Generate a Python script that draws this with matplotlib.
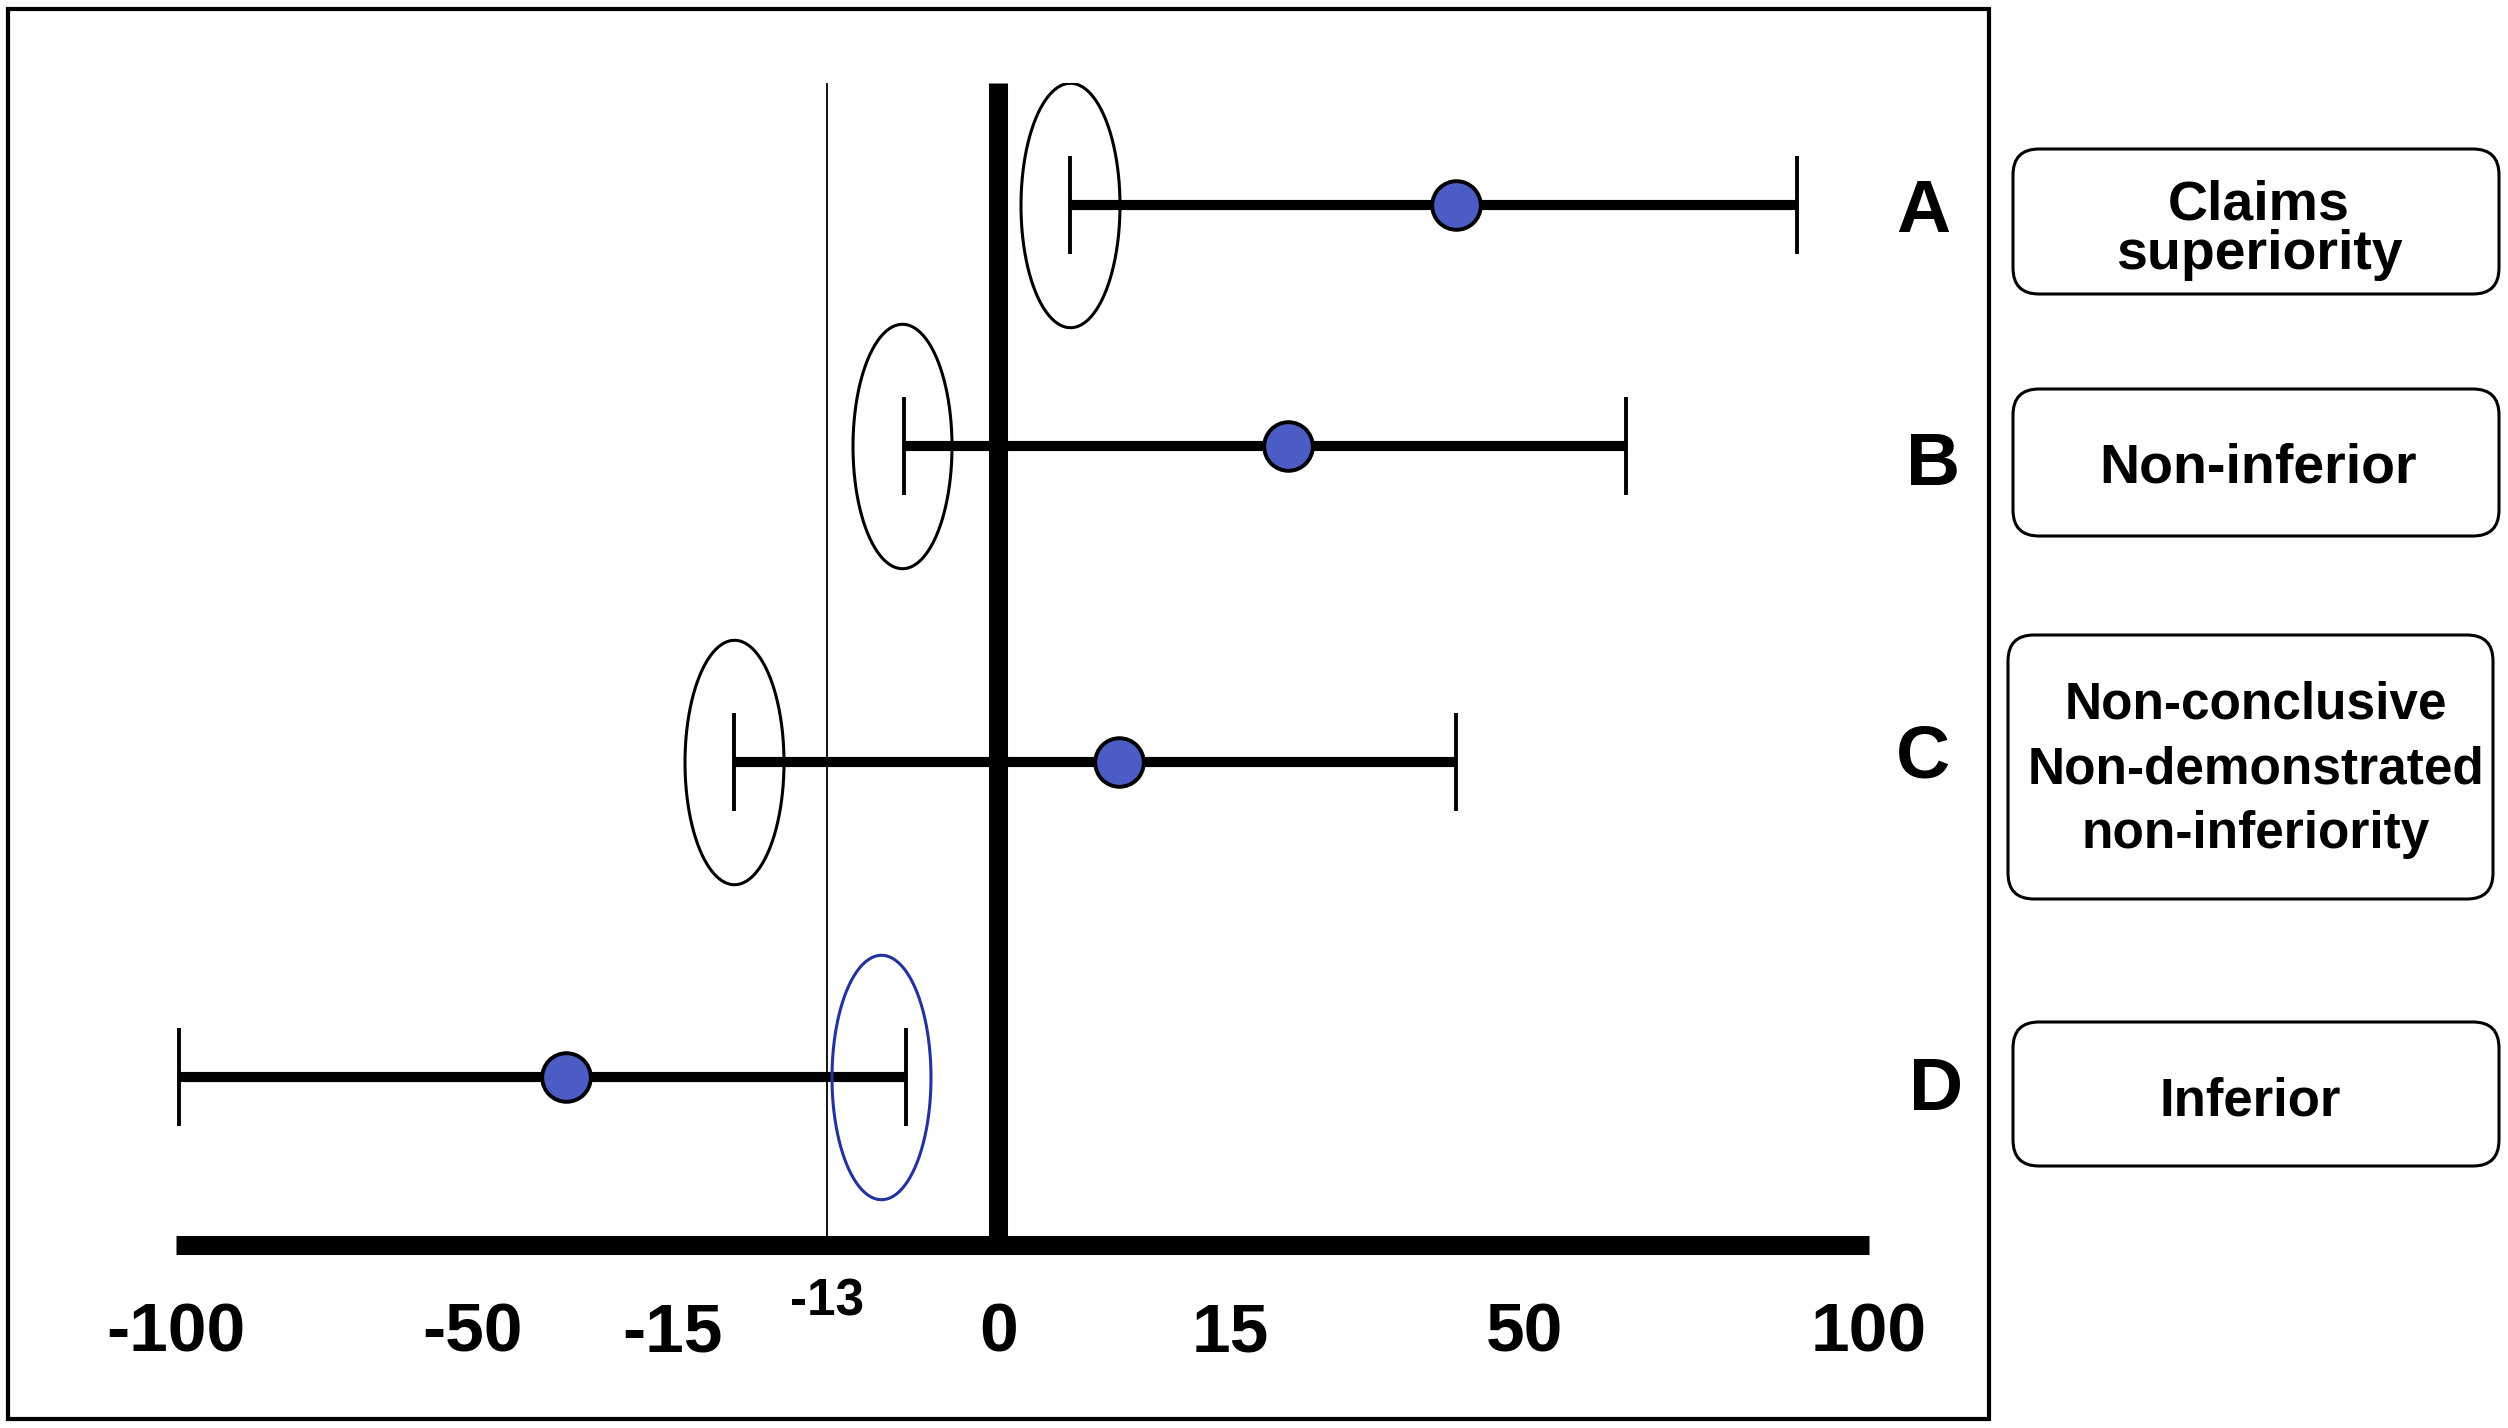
import numpy as np
import matplotlib.pyplot as plt
from matplotlib.path import Path
from matplotlib.patches import FancyBboxPatch, Rectangle
from matplotlib.transforms import ScaledTranslation

plt.rcParams['font.family'] = ['Liberation Sans', 'DejaVu Sans']

# the schematic x axis is not to scale: each tick value sits at its own place
tick_vals = [-100, -50, -15, -13, 0, 15, 50, 100]
tick_labels = ['-100', '-50', '-15', '-13', '0', '15', '50', '100']
tick_place = [110, 295, 420, 517, 624, 769, 953, 1168]

rows = ['A', 'B', 'C', 'D']
lower = [4.6, -7.2, -14.2, -99.5]
estimate = [41.8, 21.8, 7.8, -33.5]
upper = [89.5, 64.7, 41.8, -7.0]
ring_x = [4.6, -7.3, -14.2, -8.9]
ring_color = ['black', 'black', 'black', '#2233a0']
margin = -13
verdicts = ['Claims\nsuperiority', 'Non-inferior',
            'Non-conclusive\nNon-demonstrated\nnon-inferiority', 'Inferior']


def forward(x):
    return np.interp(x, tick_vals, tick_place)


def inverse(p):
    return np.interp(p, tick_place, tick_vals)


W, H = 2508, 1428
fig = plt.figure(figsize=(W / 100, H / 100), dpi=100)


def fx(px):
    return px / W


def fy(py):
    return 1 - py / H


# plot area in pixels (top-left origin)
left, right, top, bottom = 176, 1869, 83, 1245
ax = fig.add_axes([fx(left), fy(bottom), fx(right - left), (bottom - top) / H])
ax.set_xscale('function', functions=(forward, inverse))
ax.set_xlim(-100, 100)
ax.set_ylim(bottom, top)
for s in ax.spines.values():
    s.set_visible(False)
ax.set_yticks([])

row_y = [205, 446, 762, 1077]

# vertical reference lines
ax.axvline(0, color='black', lw=13.7, solid_capstyle='butt')
ax.axvline(margin, color='black', lw=1.3)

# confidence intervals with point estimates
for i in range(len(rows)):
    ax.errorbar(estimate[i], row_y[i],
                xerr=[[estimate[i] - lower[i]], [upper[i] - estimate[i]]],
                fmt='o', color='black', ecolor='black', elinewidth=7.3,
                capsize=35, capthick=3.6, markersize=35,
                markerfacecolor='#4b5cc4', markeredgecolor='black',
                markeredgewidth=2.8, zorder=3)

# ellipses around the relevant bound
t = np.linspace(0, 2 * np.pi, 100)
ring = Path(np.column_stack([0.405 * np.cos(t), np.sin(t)]))
for i in range(len(rows)):
    ax.plot(ring_x[i], row_y[i], marker=ring, markersize=176,
            markerfacecolor='none', markeredgecolor=ring_color[i],
            markeredgewidth=2.2, zorder=4)

# horizontal axis bar
ax.plot([-100, 100], [bottom, bottom], color='black', lw=13.7,
        solid_capstyle='butt', clip_on=False)

ax.set_xticks(tick_vals)
ax.set_xticklabels(tick_labels, fontsize=50, fontweight='bold')
ax.tick_params(axis='x', length=0, pad=41)
lab = ax.get_xticklabels()[3]
lab.set_fontsize(37)
lab.set_transform(lab.get_transform() +
                  ScaledTranslation(0, 0.24, fig.dpi_scale_trans))

# outer frame
fig.add_artist(Rectangle((0.08, 0.09), 19.81, 14.10, fill=False,
                         edgecolor='black', lw=3,
                         transform=fig.dpi_scale_trans))

# row letters
letter_xy = [(1923, 213), (1933, 466), (1923, 758), (1936, 1090)]
for i in range(len(rows)):
    fig.text(fx(letter_xy[i][0]), fy(letter_xy[i][1]), rows[i],
             fontsize=54, fontweight='bold', ha='center', va='center')

# verdict boxes
boxes = [(2013, 149, 2499, 294), (2013, 389, 2499, 536),
         (2008, 635, 2493, 899), (2013, 1022, 2499, 1166)]
text_xy = [(2259, 230), (2258, 469), (2256, 770), (2250, 1101)]
text_size = [40, 40, 37, 38]
text_spacing = [0.95, 1.0, 1.42, 1.0]
for i in range(len(boxes)):
    x0, y0, x1, y1 = boxes[i]
    fig.add_artist(FancyBboxPatch((x0 / 100, (H - y1) / 100),
                                  (x1 - x0) / 100, (y1 - y0) / 100,
                                  boxstyle='round,pad=0,rounding_size=0.26',
                                  fill=False, edgecolor='black', lw=2.2,
                                  transform=fig.dpi_scale_trans))
    fig.text(fx(text_xy[i][0]), fy(text_xy[i][1]), verdicts[i],
             fontsize=text_size[i], fontweight='bold', ha='center',
             va='center', multialignment='center',
             linespacing=text_spacing[i])

fig.savefig('out.png', dpi=100)
